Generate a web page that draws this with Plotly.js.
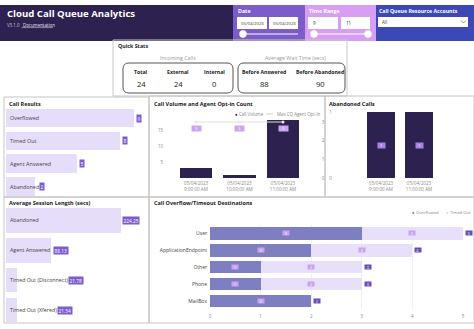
<!DOCTYPE html>
<html><head><meta charset="utf-8">
<script src="https://cdn.plot.ly/plotly-3.0.1.min.js"></script>
<style>html,body{margin:0;padding:0;background:#fff}#chart{width:474px;height:329px}</style>
</head><body><div id="chart"></div>
<script>
// ---------- DATA ----------
const incomingLabels = ['Total', 'External', 'Internal'];
const incomingValues = [24, 24, 0];
const waitLabels = ['Before Answered', 'Before Abandoned'];
const waitValues = [88, 90];

const resultCategories = ['Overflowed', 'Timed Out', 'Agent Answered', 'Abandoned'];
const resultValues = [9, 8, 5, 2];

const sessionCategories = ['Abandoned', 'Agent Answered', 'Timed Out (Disconnect)', 'Timed Out (Xfered)'];
const sessionValues = [224.25, 88.13, 21.78, 21.54];

const volumeHours = ['05/04/2023<br>9:00:00 AM', '05/04/2023<br>10:00:00 AM', '05/04/2023<br>11:00:00 AM'];
const callVolume = [3, 1, 18];
const maxAgentOptIn = [3, 3, 3];

const abandonedHours = ['05/04/2023<br>9:00:00 AM', '05/04/2023<br>11:00:00 AM'];
const abandonedCalls = [1, 1];

const destCategories = ['User', 'ApplicationEndpoint', 'Other', 'Phone', 'MailBox'];
const destOverflowed = [3, 2, 1, 1, 2];
const destTimedOut = [2, 2, 2, 2, 0];

const dateRange = ['05/04/2023', '05/04/2023'];
const timeRange = ['9', '11'];

// ---------- HELPERS ----------
const W = 474, H = 329;
const FONT = '"Segoe UI", "Open Sans", sans-serif';
const px = x => x / W;
const py = y => 1 - y / H;
const DARK = '#2d2150';
const LIGHT = '#e6ddfb';
const MID = '#7c5dca';

const ctx = document.createElement('canvas').getContext('2d');
function textW(t, size, bold) {
  ctx.font = (bold ? 'bold ' : '') + size + 'px "Open Sans"';
  return ctx.measureText(t).width;
}
const ann = [];
const shapes = [];
function txt(x, y, text, size, color, o) {
  o = o || {};
  ann.push(Object.assign({xref: 'paper', yref: 'paper', x: px(x), y: py(y), text: text, showarrow: false,
    xanchor: 'left', yanchor: 'middle', font: {family: FONT, size: size, color: color}}, o));
}
function rect(x0, y0, x1, y1, fill, line, lw) {
  shapes.push({type: 'rect', xref: 'paper', yref: 'paper', x0: px(x0), x1: px(x1), y0: py(y0), y1: py(y1),
    fillcolor: fill || 'rgba(0,0,0,0)', line: {color: line || 'rgba(0,0,0,0)', width: lw || 0}, layer: 'below'});
}
function rrect(x0, y0, x1, y1, r, color) {
  const rx = r / W, ry = r / H;
  const X0 = px(x0), X1 = px(x1), Y0 = py(y0), Y1 = py(y1);
  const p = `M ${X0 + rx} ${Y0} L ${X1 - rx} ${Y0} Q ${X1} ${Y0} ${X1} ${Y0 - ry} L ${X1} ${Y1 + ry} Q ${X1} ${Y1} ${X1 - rx} ${Y1} L ${X0 + rx} ${Y1} Q ${X0} ${Y1} ${X0} ${Y1 + ry} L ${X0} ${Y0 - ry} Q ${X0} ${Y0} ${X0 + rx} ${Y0} Z`;
  shapes.push({type: 'path', xref: 'paper', yref: 'paper', path: p, line: {color: color, width: 1}});
}
function circle(cx, cy, r, fill) {
  shapes.push({type: 'circle', xref: 'paper', yref: 'paper', x0: px(cx - r), x1: px(cx + r), y0: py(cy + r), y1: py(cy - r),
    fillcolor: fill, line: {width: 0}});
}
function hline(x0, x1, y, color, w) {
  shapes.push({type: 'line', xref: 'paper', yref: 'paper', x0: px(x0), x1: px(x1), y0: py(y), y1: py(y), line: {color: color, width: w}});
}

// ---------- HEADER ----------
rect(0, 5, 233, 41, DARK);
txt(5, 14, '<b>Cloud Call Queue Analytics</b>', 9.6, '#ffffff');
txt(5, 25, 'V3.1.0', 4.4, '#cfc6e0');
txt(21, 25, 'Documentation', 4.4, '#e8e2f2');
hline(21.5, 53, 27.6, '#e8e2f2', 0.5);

rect(233, 5, 305, 41, '#7b5cc8');
txt(236, 11, '<b>Date</b>', 5.3, '#ffffff');
rect(237, 17, 267, 29, '#ffffff');
rect(269, 17, 298, 29, '#ffffff');
txt(239, 23, dateRange[0], 4.3, '#333');
txt(271, 23, dateRange[1], 4.3, '#333');
hline(243, 298, 34, '#ffffff', 1);
circle(243, 34, 3.7, '#ffffff');

rect(305, 5, 376, 41, '#d89ef4');
txt(307, 11, '<b>Time Range</b>', 5.3, '#ffffff');
rect(308, 17, 338, 29, '#ffffff');
rect(341, 17, 370, 29, '#ffffff');
txt(311, 23, timeRange[0], 4.4, '#333');
txt(344, 23, timeRange[1], 4.4, '#333');
hline(314, 368, 34, '#ffffff', 1);
circle(314, 34, 3.7, '#ffffff');
circle(368, 34, 3.7, '#ffffff');

rect(376, 5, 474, 41, '#3b48b6');
txt(377, 11, '<b>Call Queue Resource Accounts</b>', 5.2, '#ffffff');
rect(378, 17, 468, 27, '#ffffff');
txt(380, 22, 'All', 4.4, '#333');
shapes.push({type: 'path', xref: 'paper', yref: 'paper',
  path: `M ${px(461)} ${py(20.5)} L ${px(463.5)} ${py(23)} L ${px(466)} ${py(20.5)}`, line: {color: '#666', width: 0.7}});

// ---------- QUICK STATS ----------
rect(113, 40, 347, 96, null, '#c8c8c8', 1);
txt(116, 46, '<b>Quick Stats</b>', 5.3, '#222');
txt(178, 58, 'Incoming Calls', 5.3, '#9a9a9a', {xanchor: 'center'});
txt(295, 58, 'Average Wait Time (secs)', 5.3, '#9a9a9a', {xanchor: 'center'});
rrect(123, 63, 233, 93, 6, '#555');
rrect(238, 63, 345, 93, 6, '#555');
const incX = [141, 178, 214];
incomingLabels.forEach((l, i) => {
  txt(incX[i], 72, '<b>' + l + '</b>', 5.2, '#222', {xanchor: 'center'});
  txt(incX[i], 84, String(incomingValues[i]), 7.6, '#222', {xanchor: 'center'});
});
const waitX = [264, 320];
waitLabels.forEach((l, i) => {
  txt(waitX[i], 72, '<b>' + l + '</b>', 5.2, '#222', {xanchor: 'center'});
  txt(waitX[i], 84, String(waitValues[i]), 7.6, '#222', {xanchor: 'center'});
});

// ---------- PANEL FRAMES ----------
rect(4, 97, 149, 197, null, '#c4c4c4', 1);
rect(4, 197, 149, 323, null, '#c4c4c4', 1);
rect(149, 96, 325, 197, null, '#c4c4c4', 1);
rect(325, 96, 474, 197, null, '#c4c4c4', 1);
rect(149, 197, 474, 323, null, '#c4c4c4', 1);
txt(7, 104, '<b>Call Results</b>', 5.5, '#222');
txt(152, 104, '<b>Call Volume and Agent Opt-in Count</b>', 5.5, '#222');
txt(327, 104, '<b>Abandoned Calls</b>', 5.5, '#222');
txt(7, 203, '<b>Average Session Length (secs)</b>', 5.5, '#222');
txt(152, 203, '<b>Call Overflow/Timeout Destinations</b>', 5.5, '#222');

// legends
txt(232.5, 114, '●', 4.5, DARK);
txt(237, 114, 'Call Volume', 4.4, '#888');
hline(266, 273, 114, '#cccccc', 1);
txt(275, 114, 'Max CQ Agent Opt-In', 4.4, '#888');
txt(409.5, 213, '●', 4, '#555');
txt(413.5, 213, 'Overflowed', 4.2, '#888');
txt(444, 213, '●', 4, '#d8cdf5');
txt(448, 213, 'Timed Out', 4.2, '#888');

// ---------- HORIZONTAL BAR HELPERS ----------
const traces = [];
const hAxes = {};
function hbarPanel(cats, vals, xa, ya, x0px, fullPx, xmax, labelSize, badgeSize, fmt) {
  traces.push({type: 'bar', orientation: 'h', y: cats, x: vals, xaxis: xa, yaxis: ya,
    marker: {color: LIGHT}, hoverinfo: 'skip', showlegend: false});
  const ppu = fullPx / xmax;
  const rangeMax = xmax * 1.4;
  hAxes[xa] = {domain: [px(x0px), px(x0px + rangeMax * ppu)], range: [0, rangeMax]};
  cats.forEach((c, i) => {
    ann.push({xref: xa, yref: ya, x: 0, y: c, xanchor: 'left', xshift: 1.5, showarrow: false, text: c,
      font: {family: FONT, size: labelSize, color: '#444'}});
    const lblEnd = 1.5 + textW(c, labelSize, false) + 1;
    const barEnd = vals[i] * ppu;
    const left = Math.max(lblEnd, barEnd) + 1.5;
    ann.push({xref: xa, yref: ya, x: left / ppu, y: c, xanchor: 'left', showarrow: false, text: fmt(vals[i]),
      bgcolor: MID, borderpad: 0.6, font: {family: FONT, size: badgeSize, color: '#fff'}});
  });
}
hbarPanel(resultCategories, resultValues, 'x', 'y', 6, 128.3, 9, 5.4, 4.8, v => String(v));
hbarPanel(sessionCategories, sessionValues, 'x2', 'y2', 6, 114.7, 224.25, 5.3, 4.8, v => v.toFixed(2));

// ---------- CALL VOLUME ----------
traces.push({type: 'bar', x: volumeHours, y: callVolume, xaxis: 'x3', yaxis: 'y3', marker: {color: DARK},
  showlegend: false, hoverinfo: 'skip'});
traces.push({type: 'scatter', mode: 'lines+markers', x: volumeHours, y: maxAgentOptIn, xaxis: 'x3', yaxis: 'y4',
  line: {color: '#dedede', width: 1.2}, marker: {color: '#e8e8e8', size: 3}, showlegend: false, hoverinfo: 'skip'});
volumeHours.forEach((h, i) => {
  ann.push({xref: 'x3', yref: 'y4', x: h, y: maxAgentOptIn[i], yshift: -6.5, showarrow: false, text: String(maxAgentOptIn[i]),
    bgcolor: '#c9a6f0', width: 9, height: 4.6, borderpad: 0, font: {family: FONT, size: 4, color: '#fff'}});
});

// ---------- ABANDONED ----------
traces.push({type: 'bar', x: abandonedHours, y: abandonedCalls, xaxis: 'x5', yaxis: 'y5', marker: {color: DARK},
  showlegend: false, hoverinfo: 'skip'});
abandonedHours.forEach((h, i) => {
  ann.push({xref: 'x5', yref: 'y5', x: h, y: abandonedCalls[i] / 2, showarrow: false, text: String(abandonedCalls[i]),
    bgcolor: '#a983e2', width: 6.5, height: 4.8, borderpad: 0, font: {family: FONT, size: 4, color: '#fff'}});
});

// ---------- OVERFLOW DESTINATIONS ----------
traces.push({type: 'bar', orientation: 'h', y: destCategories, x: destOverflowed, xaxis: 'x6', yaxis: 'y6',
  name: 'Overflowed', marker: {color: '#7e7fc1'}, showlegend: false, hoverinfo: 'skip'});
traces.push({type: 'bar', orientation: 'h', y: destCategories, x: destTimedOut, xaxis: 'x6', yaxis: 'y6',
  name: 'Timed Out', marker: {color: '#e8e0fb'}, showlegend: false, hoverinfo: 'skip'});
destCategories.forEach((c, i) => {
  const o = destOverflowed[i], t = destTimedOut[i];
  const badge = (x, v, col, o2) => ann.push(Object.assign({xref: 'x6', yref: 'y6', x: x, y: c, showarrow: false,
    text: String(v), bgcolor: col, width: 5.5, height: 4.4, borderpad: 0, font: {family: FONT, size: 3.8, color: '#fff'}}, o2 || {}));
  if (o) badge(o / 2, o, '#c9a2f2');
  if (t) badge(o + t / 2, t, '#c9a2f2');
  badge(o + t, o + t, '#6a4db5', {xanchor: 'left', xshift: 1.8});
});

// ---------- LAYOUT ----------
const hidden = {visible: false, fixedrange: true};
const tickFont = {family: FONT, size: 4.6, color: '#8a8a8a'};
const layout = {
  width: W, height: H, margin: {l: 0, r: 0, t: 0, b: 0}, paper_bgcolor: '#fff', plot_bgcolor: 'rgba(0,0,0,0)',
  barmode: 'stack', showlegend: false, font: {family: FONT},
  xaxis: Object.assign({anchor: 'y'}, hAxes.x, hidden),
  yaxis: Object.assign({domain: [py(198), py(106.6)], autorange: 'reversed', anchor: 'x', type: 'category'}, hidden),
  xaxis2: Object.assign({anchor: 'y2'}, hAxes.x2, hidden),
  yaxis2: Object.assign({domain: [py(325), py(205.5)], autorange: 'reversed', anchor: 'x2', type: 'category'}, hidden),
  xaxis3: {domain: [px(174.25), px(304.75)], anchor: 'y3', type: 'category', showgrid: false, zeroline: false,
    showline: false, ticks: '', tickfont: tickFont, ticklabelstandoff: 1, fixedrange: true},
  yaxis3: {domain: [py(178), py(118)], anchor: 'x3', range: [0, 18.75], tickvals: [5, 10, 15], showgrid: false,
    zeroline: false, showline: false, ticks: '', tickfont: tickFont, ticklabelstandoff: 10, fixedrange: true},
  yaxis4: {overlaying: 'y3', side: 'right', anchor: 'x3', range: [0, 3.214], tickvals: [0, 1, 2, 3], showgrid: false,
    zeroline: false, showline: false, ticks: '', tickfont: tickFont, ticklabelstandoff: 16, fixedrange: true},
  xaxis5: {domain: [px(362), px(438)], anchor: 'y5', type: 'category', showgrid: false, zeroline: false,
    showline: false, ticks: '', tickfont: tickFont, ticklabelstandoff: 1, fixedrange: true},
  yaxis5: {domain: [py(178), py(112)], anchor: 'x5', range: [0, 1], tickvals: [0, 1], showgrid: false,
    zeroline: false, showline: false, ticks: '', tickfont: tickFont, ticklabelstandoff: 29, fixedrange: true},
  xaxis6: {domain: [px(210), px(463)], anchor: 'y6', range: [0, 5], tickvals: [0, 1, 2, 3, 4, 5], showgrid: true,
    gridcolor: '#f0f0f0', zeroline: false, showline: false, ticks: '', tickfont: tickFont, ticklabelstandoff: 3, fixedrange: true},
  yaxis6: {domain: [py(309.3), py(225)], anchor: 'x6', type: 'category', autorange: 'reversed', showgrid: false,
    zeroline: false, showline: false, ticks: '', tickfont: {family: FONT, size: 5, color: '#444'}, ticklabelstandoff: 2, fixedrange: true},
  bargap: 0.19,
  shapes: shapes, annotations: ann
};
traces[0].width = 0.81; traces[1].width = 0.82;
traces[2].width = 0.74; traces[4].width = 0.74;
traces[5].width = 0.74; traces[6].width = 0.74;

Plotly.newPlot('chart', traces, layout, {displayModeBar: false, staticPlot: true});
</script></body></html>
